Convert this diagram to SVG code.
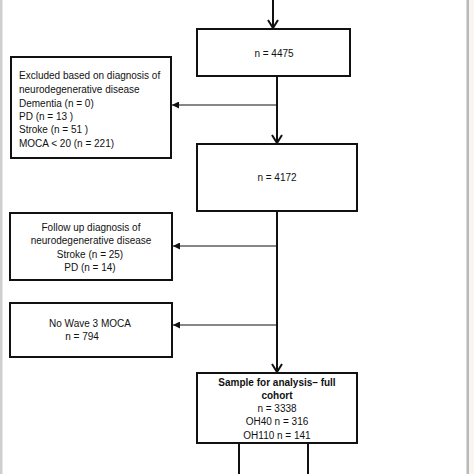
<svg xmlns="http://www.w3.org/2000/svg" width="474" height="474" viewBox="0 0 474 474">
<style>
.box{fill:#fff;stroke:#111;stroke-width:2}
.t{font-family:"Liberation Sans",Arial,sans-serif;font-size:10px;fill:#111}
.c{text-anchor:middle}
.b{font-weight:bold}
.v{stroke:#111;stroke-width:2;fill:none}
.h{stroke:#111;stroke-width:1.2;fill:none}
</style>
<defs>
<marker id="down" viewBox="0 0 10 12" refX="9" refY="6" markerWidth="10" markerHeight="12" markerUnits="userSpaceOnUse" orient="auto">
<path d="M1,1 L9,6 L1,11" fill="none" stroke="#111" stroke-width="2"/>
</marker>
<marker id="left" viewBox="0 0 7 7" refX="7" refY="3.5" markerWidth="7" markerHeight="7" markerUnits="userSpaceOnUse" orient="auto">
<path d="M0,0 L7,3.5 L0,7 Z" fill="#111"/>
</marker>
</defs>
<rect x="0" y="0" width="474" height="474" fill="#fff"/>
<rect x="0" y="0" width="2.5" height="474" fill="#cfcfcf"/>
<rect x="466.5" y="0" width="2.5" height="474" fill="#b8b8b8"/>
<rect x="469" y="0" width="5" height="474" fill="#fbf5f2"/>
<g id="connectors">
<line class="v" x1="273" y1="0" x2="273" y2="28" marker-end="url(#down)"/>
<line class="v" x1="277" y1="76" x2="277" y2="143" marker-end="url(#down)"/>
<line class="h" x1="277" y1="105" x2="172" y2="105" marker-end="url(#left)"/>
<line class="v" x1="277" y1="211" x2="277" y2="372" marker-end="url(#down)"/>
<line class="h" x1="277" y1="246" x2="173" y2="246" marker-end="url(#left)"/>
<line class="h" x1="277" y1="325" x2="173" y2="325" marker-end="url(#left)"/>
<line class="v" x1="239" y1="443" x2="239" y2="474"/>
<line class="v" x1="308" y1="443" x2="308" y2="474"/>
</g>
<g id="n4475">
<rect class="box" x="197" y="29" width="153" height="47"/>
<text class="t c" x="274" y="57">n = 4475</text>
</g>
<g id="excluded">
<rect class="box" x="11" y="57" width="160" height="101"/>
<text class="t" x="19" y="79">Excluded based on diagnosis of</text>
<text class="t" x="19" y="93">neurodegenerative disease</text>
<text class="t" x="19" y="107">Dementia (n = 0)</text>
<text class="t" x="19" y="120">PD (n = 13 )</text>
<text class="t" x="19" y="133">Stroke  (n = 51 )</text>
<text class="t" x="19" y="147">MOCA &lt; 20 (n = 221)</text>
</g>
<g id="n4172">
<rect class="box" x="197" y="144" width="160" height="67"/>
<text class="t c" x="277" y="181">n = 4172</text>
</g>
<g id="followup">
<rect class="box" x="10" y="213" width="162" height="67"/>
<text class="t c" x="91" y="231">Follow up diagnosis of</text>
<text class="t c" x="91" y="244">neurodegenerative disease</text>
<text class="t c" x="90" y="258">Stroke  (n = 25)</text>
<text class="t c" x="90" y="271">PD (n = 14)</text>
</g>
<g id="nowave">
<rect class="box" x="10" y="303" width="162" height="54"/>
<text class="t c" x="90" y="327">No Wave 3 MOCA</text>
<text class="t c" x="82" y="340">n = 794</text>
</g>
<g id="sample">
<rect class="box" x="197" y="373" width="160" height="70"/>
<text class="t c b" x="277" y="386">Sample for analysis– full</text>
<text class="t c b" x="277" y="399">cohort</text>
<text class="t c" x="277" y="412">n = 3338</text>
<text class="t c" x="277" y="425">OH40 n = 316</text>
<text class="t c" x="277" y="439">OH110 n = 141</text>
</g>
</svg>
